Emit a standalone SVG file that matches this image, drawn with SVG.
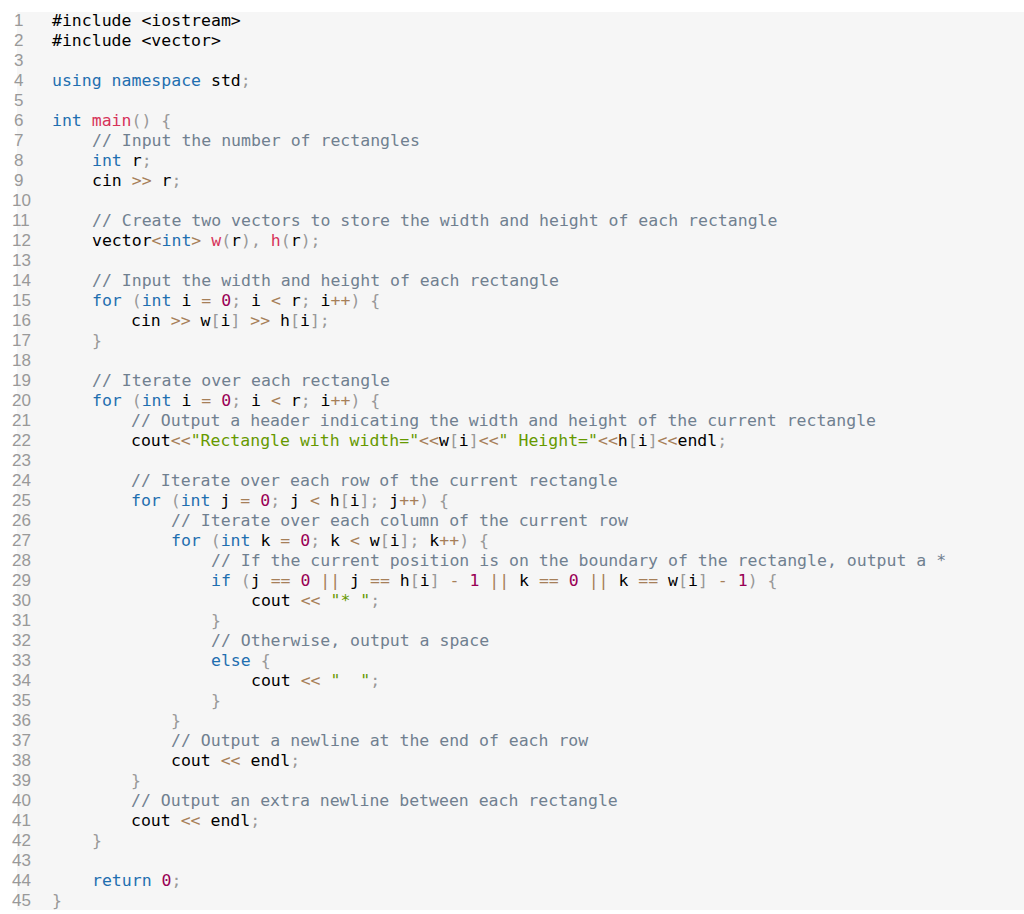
<svg xmlns="http://www.w3.org/2000/svg" width="1024" height="914" viewBox="0 0 1024 914" xml:space="preserve">
<style>
text{font-family:"DejaVu Sans Mono","Liberation Mono",monospace;font-size:16.5px;fill:#000;white-space:pre}
.ln{font-family:"Liberation Sans","DejaVu Sans",sans-serif;font-size:17px;fill:#999}
.k{fill:#1f6fb0}.f{fill:#d6335a}.c{fill:#708090}.p{fill:#999}.o{fill:#a67f59}.n{fill:#905}.s{fill:#690}
</style>
<rect x="0" y="0" width="1024" height="914" fill="#fff"/>
<rect x="17" y="12" width="1007" height="898" fill="#f6f6f6"/>
<g id="linenumbers">
<text class="ln" x="14" y="26">1</text><text class="ln" x="14" y="46">2</text><text class="ln" x="14" y="66">3</text><text class="ln" x="14" y="86">4</text><text class="ln" x="14" y="106">5</text><text class="ln" x="14" y="126">6</text><text class="ln" x="14" y="146">7</text><text class="ln" x="14" y="166">8</text><text class="ln" x="14" y="186">9</text><text class="ln" x="12" y="206">10</text><text class="ln" x="12" y="226">11</text><text class="ln" x="12" y="246">12</text><text class="ln" x="12" y="266">13</text><text class="ln" x="12" y="286">14</text><text class="ln" x="12" y="306">15</text><text class="ln" x="12" y="326">16</text><text class="ln" x="12" y="346">17</text><text class="ln" x="12" y="366">18</text><text class="ln" x="12" y="386">19</text><text class="ln" x="12" y="406">20</text><text class="ln" x="12" y="426">21</text><text class="ln" x="12" y="446">22</text><text class="ln" x="12" y="466">23</text><text class="ln" x="12" y="486">24</text><text class="ln" x="12" y="506">25</text><text class="ln" x="12" y="526">26</text><text class="ln" x="12" y="546">27</text><text class="ln" x="12" y="566">28</text><text class="ln" x="12" y="586">29</text><text class="ln" x="12" y="606">30</text><text class="ln" x="12" y="626">31</text><text class="ln" x="12" y="646">32</text><text class="ln" x="12" y="666">33</text><text class="ln" x="12" y="686">34</text><text class="ln" x="12" y="706">35</text><text class="ln" x="12" y="726">36</text><text class="ln" x="12" y="746">37</text><text class="ln" x="12" y="766">38</text><text class="ln" x="12" y="786">39</text><text class="ln" x="12" y="806">40</text><text class="ln" x="12" y="826">41</text><text class="ln" x="12" y="846">42</text><text class="ln" x="12" y="866">43</text><text class="ln" x="12" y="886">44</text><text class="ln" x="12" y="906">45</text>
</g>
<g id="code">
<text x="52" y="26">#include &lt;iostream&gt;</text>
<text x="52" y="46">#include &lt;vector&gt;</text>
<text x="52" y="86"><tspan class="k">using</tspan> <tspan class="k">namespace</tspan> std<tspan class="p">;</tspan></text>
<text x="52" y="126"><tspan class="k">int</tspan> <tspan class="f">main</tspan><tspan class="p">()</tspan> <tspan class="p">{</tspan></text>
<text x="92" y="146" class="c">// Input the number of rectangles</text>
<text x="92" y="166"><tspan class="k">int</tspan> r<tspan class="p">;</tspan></text>
<text x="92" y="186">cin <tspan class="o">&gt;&gt;</tspan> r<tspan class="p">;</tspan></text>
<text x="92" y="226" class="c">// Create two vectors to store the width and height of each rectangle</text>
<text x="92" y="246">vector<tspan class="o">&lt;</tspan><tspan class="k">int</tspan><tspan class="o">&gt;</tspan> <tspan class="f">w</tspan><tspan class="p">(</tspan>r<tspan class="p">),</tspan> <tspan class="f">h</tspan><tspan class="p">(</tspan>r<tspan class="p">);</tspan></text>
<text x="92" y="286" class="c">// Input the width and height of each rectangle</text>
<text x="92" y="306"><tspan class="k">for</tspan> <tspan class="p">(</tspan><tspan class="k">int</tspan> i <tspan class="o">=</tspan> <tspan class="n">0</tspan><tspan class="p">;</tspan> i <tspan class="o">&lt;</tspan> r<tspan class="p">;</tspan> i<tspan class="o">++</tspan><tspan class="p">)</tspan> <tspan class="p">{</tspan></text>
<text x="131" y="326">cin <tspan class="o">&gt;&gt;</tspan> w<tspan class="p">[</tspan>i<tspan class="p">]</tspan> <tspan class="o">&gt;&gt;</tspan> h<tspan class="p">[</tspan>i<tspan class="p">];</tspan></text>
<text x="92" y="346" class="p">}</text>
<text x="92" y="386" class="c">// Iterate over each rectangle</text>
<text x="92" y="406"><tspan class="k">for</tspan> <tspan class="p">(</tspan><tspan class="k">int</tspan> i <tspan class="o">=</tspan> <tspan class="n">0</tspan><tspan class="p">;</tspan> i <tspan class="o">&lt;</tspan> r<tspan class="p">;</tspan> i<tspan class="o">++</tspan><tspan class="p">)</tspan> <tspan class="p">{</tspan></text>
<text x="131" y="426" class="c">// Output a header indicating the width and height of the current rectangle</text>
<text x="131" y="446">cout<tspan class="o">&lt;&lt;</tspan><tspan class="s">"Rectangle with width="</tspan><tspan class="o">&lt;&lt;</tspan>w<tspan class="p">[</tspan>i<tspan class="p">]</tspan><tspan class="o">&lt;&lt;</tspan><tspan class="s">" Height="</tspan><tspan class="o">&lt;&lt;</tspan>h<tspan class="p">[</tspan>i<tspan class="p">]</tspan><tspan class="o">&lt;&lt;</tspan>endl<tspan class="p">;</tspan></text>
<text x="131" y="486" class="c">// Iterate over each row of the current rectangle</text>
<text x="131" y="506"><tspan class="k">for</tspan> <tspan class="p">(</tspan><tspan class="k">int</tspan> j <tspan class="o">=</tspan> <tspan class="n">0</tspan><tspan class="p">;</tspan> j <tspan class="o">&lt;</tspan> h<tspan class="p">[</tspan>i<tspan class="p">];</tspan> j<tspan class="o">++</tspan><tspan class="p">)</tspan> <tspan class="p">{</tspan></text>
<text x="171" y="526" class="c">// Iterate over each column of the current row</text>
<text x="171" y="546"><tspan class="k">for</tspan> <tspan class="p">(</tspan><tspan class="k">int</tspan> k <tspan class="o">=</tspan> <tspan class="n">0</tspan><tspan class="p">;</tspan> k <tspan class="o">&lt;</tspan> w<tspan class="p">[</tspan>i<tspan class="p">];</tspan> k<tspan class="o">++</tspan><tspan class="p">)</tspan> <tspan class="p">{</tspan></text>
<text x="211" y="566" class="c">// If the current position is on the boundary of the rectangle, output a *</text>
<text x="211" y="586"><tspan class="k">if</tspan> <tspan class="p">(</tspan>j <tspan class="o">==</tspan> <tspan class="n">0</tspan> <tspan class="o">||</tspan> j <tspan class="o">==</tspan> h<tspan class="p">[</tspan>i<tspan class="p">]</tspan> <tspan class="o">-</tspan> <tspan class="n">1</tspan> <tspan class="o">||</tspan> k <tspan class="o">==</tspan> <tspan class="n">0</tspan> <tspan class="o">||</tspan> k <tspan class="o">==</tspan> w<tspan class="p">[</tspan>i<tspan class="p">]</tspan> <tspan class="o">-</tspan> <tspan class="n">1</tspan><tspan class="p">)</tspan> <tspan class="p">{</tspan></text>
<text x="251" y="606">cout <tspan class="o">&lt;&lt;</tspan> <tspan class="s">"* "</tspan><tspan class="p">;</tspan></text>
<text x="211" y="626" class="p">}</text>
<text x="211" y="646" class="c">// Otherwise, output a space</text>
<text x="211" y="666"><tspan class="k">else</tspan> <tspan class="p">{</tspan></text>
<text x="251" y="686">cout <tspan class="o">&lt;&lt;</tspan> <tspan class="s">"  "</tspan><tspan class="p">;</tspan></text>
<text x="211" y="706" class="p">}</text>
<text x="171" y="726" class="p">}</text>
<text x="171" y="746" class="c">// Output a newline at the end of each row</text>
<text x="171" y="766">cout <tspan class="o">&lt;&lt;</tspan> endl<tspan class="p">;</tspan></text>
<text x="131" y="786" class="p">}</text>
<text x="131" y="806" class="c">// Output an extra newline between each rectangle</text>
<text x="131" y="826">cout <tspan class="o">&lt;&lt;</tspan> endl<tspan class="p">;</tspan></text>
<text x="92" y="846" class="p">}</text>
<text x="92" y="886"><tspan class="k">return</tspan> <tspan class="n">0</tspan><tspan class="p">;</tspan></text>
<text x="52" y="906" class="p">}</text>
</g>
</svg>
